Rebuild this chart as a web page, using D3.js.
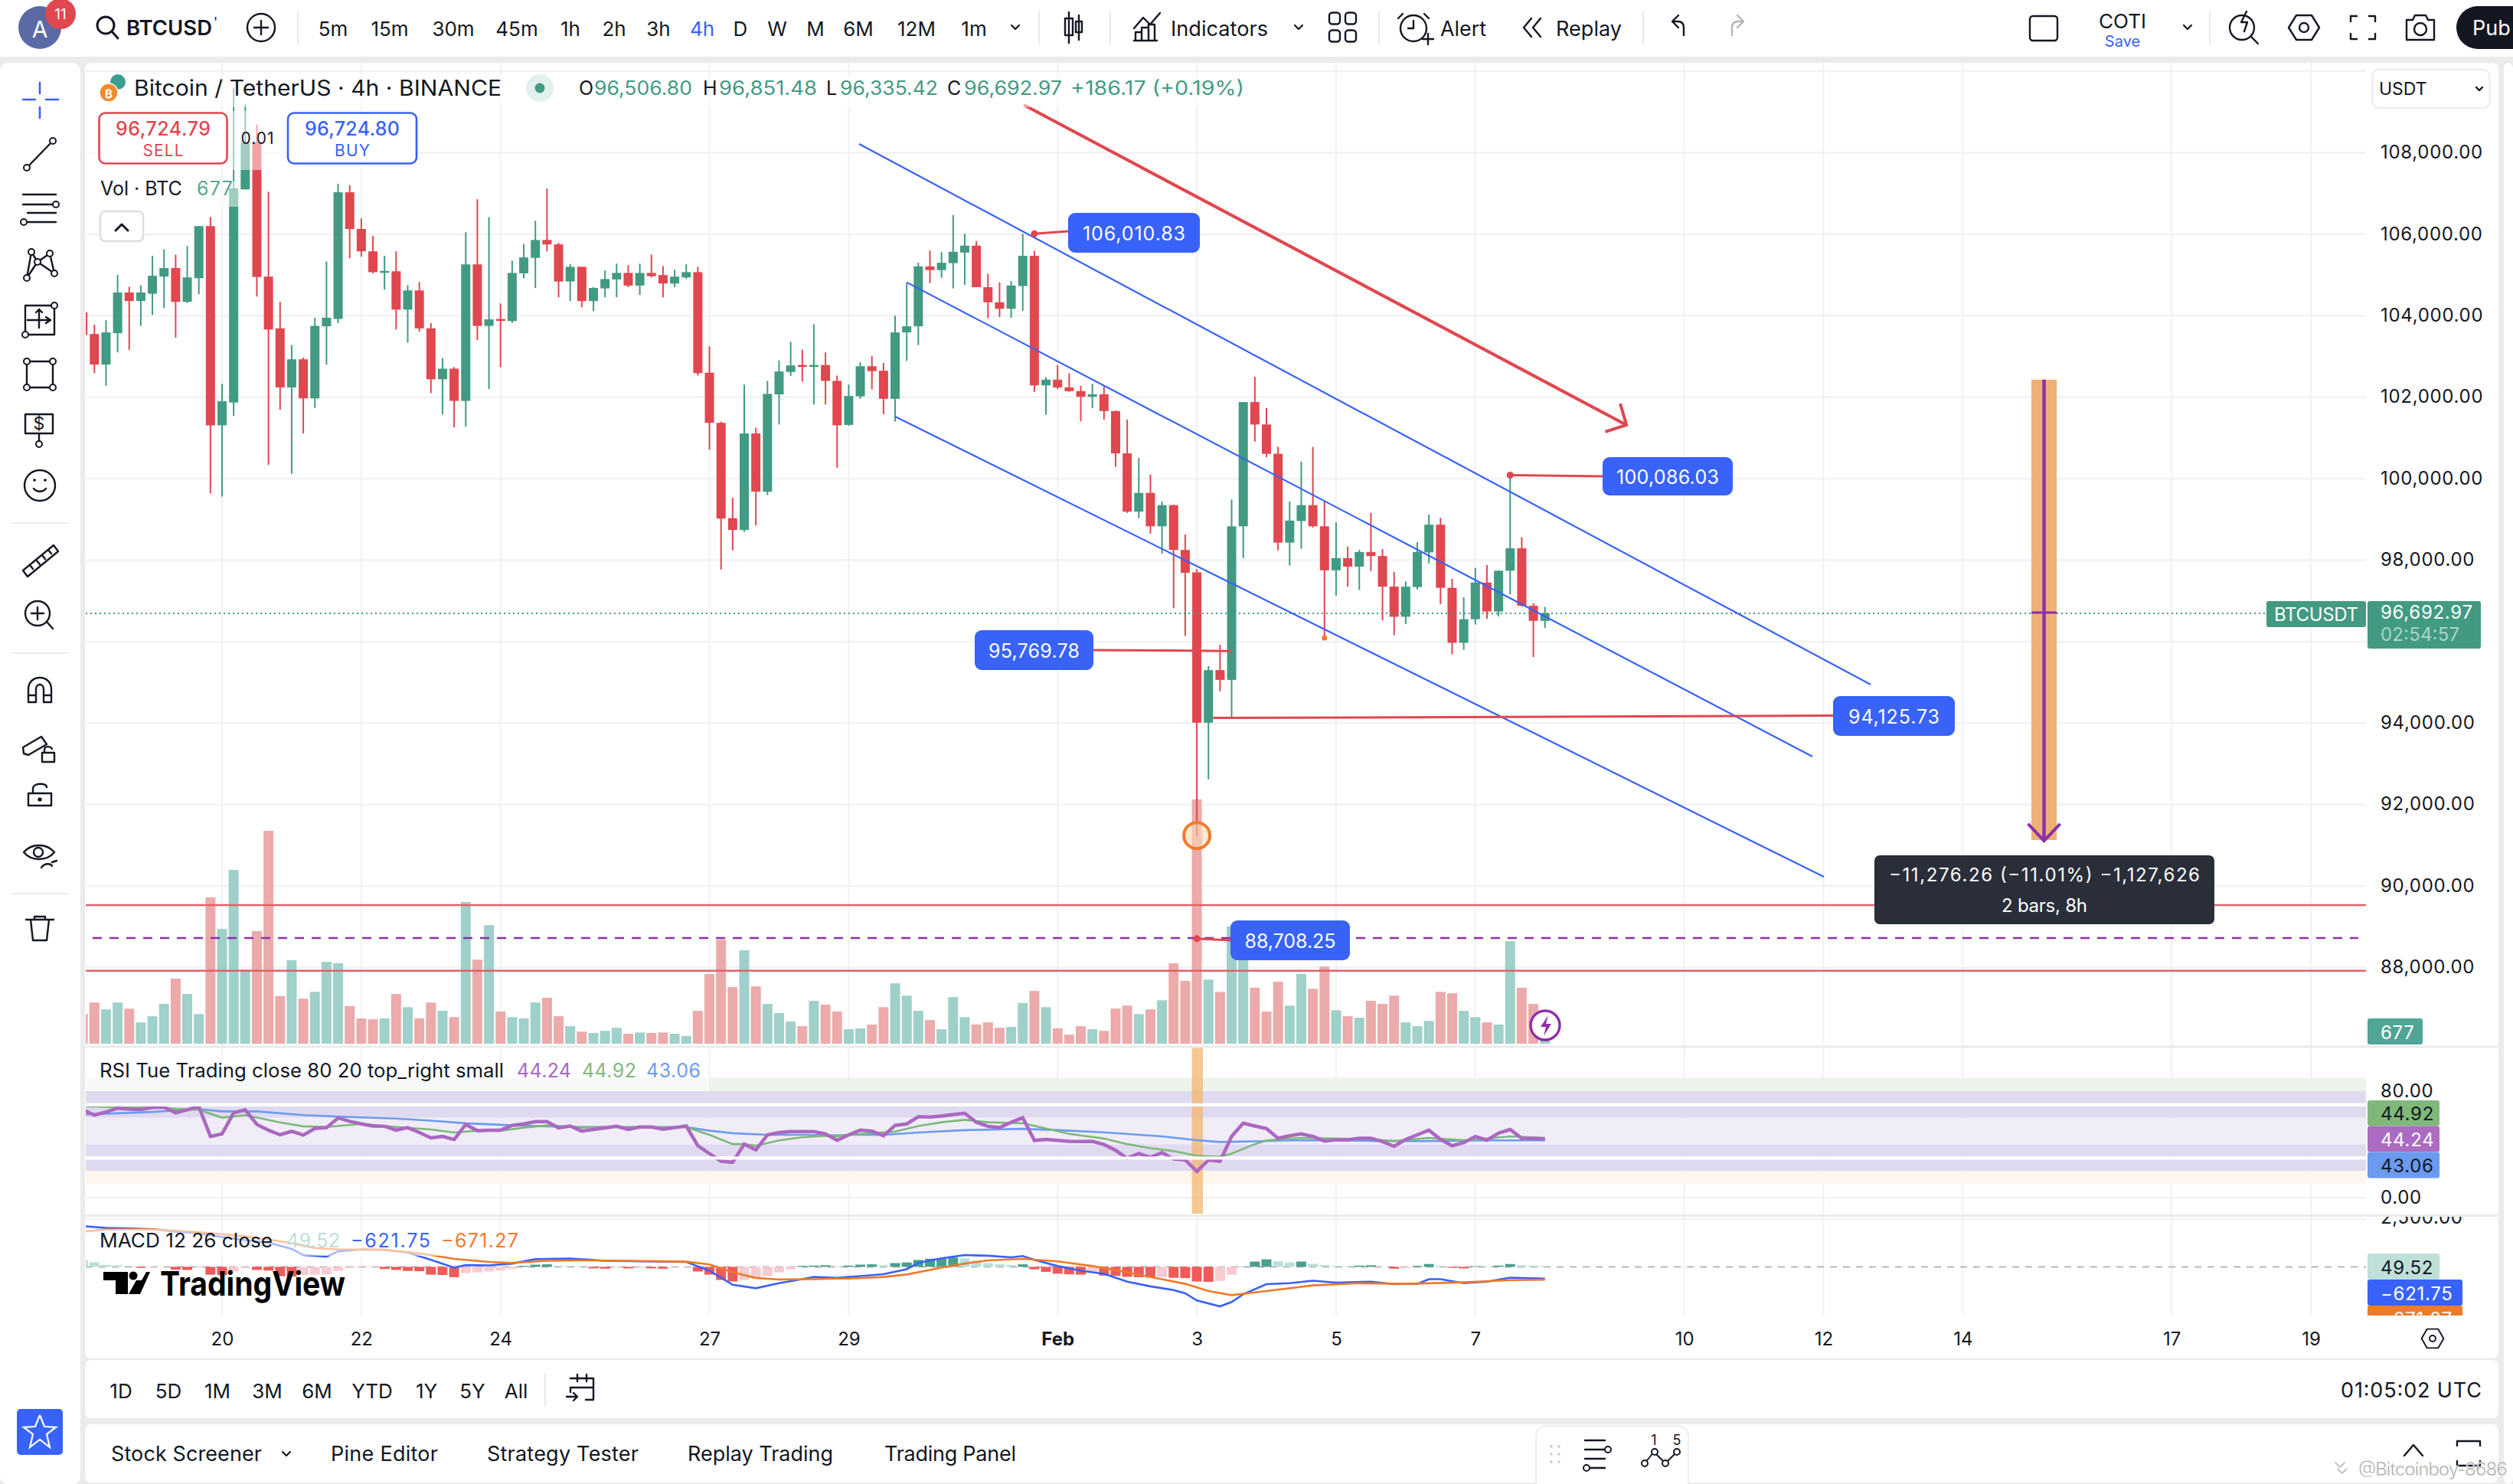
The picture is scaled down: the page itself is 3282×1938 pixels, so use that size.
<!DOCTYPE html>
<html><head><meta charset="utf-8"><title>BTCUSDT chart</title>
<script src="https://cdn.jsdelivr.net/npm/d3@7"></script>
<style>html,body{margin:0;padding:0;background:#ebebeb;overflow:hidden}svg{display:block}text{font-family:Inter,"Noto Sans",sans-serif}</style>
</head><body><svg id="c" width="3282" height="1938" viewBox="0 0 3282 1938"></svg>
<script>
// ---------- DATA (bar 0 = 20 Jan 00:00, 4h bars, first bar is -12) ----------
const firstBar = -12;
const opens = [
104080,103550,102800,103570,104570,104360,104540,104960,105170,104340,
104920,106200,101310,101870,107100,108250,104960,103690,102240,102930,
101970,103740,103920,107030,106130,105580,105070,105090,104150,104620,
103690,102440,102700,101910,105260,103750,103920,103870,105040,105420,
105860,105750,104840,105200,104360,104670,104890,105050,104740,105050,
105000,104790,104940,105070,102600,101370,99030,98740,101110,99680,
102070,102620,102790,102770,102790,102400,101320,102020,102760,102650,
101960,103590,103740,105210,105120,105290,105550,105720,104700,104330,
104170,104730,105470,102290,102430,102240,102150,102010,102070,101660,
100620,99190,99650,98830,99350,98250,97700,94010,95300,95060,
98830,101880,101330,100610,98430,98960,99350,98830,97750,98050,
97840,98200,98100,97350,96610,97340,98190,98870,97320,95970,
96550,97450,96740,97740,98290,96880,96506.8];
const closes = [
103530,102800,103590,104570,104360,104570,104980,105170,104340,104940,
106200,101310,101900,107130,108250,104950,103660,102240,102930,101970,
103750,103950,107030,106130,105580,105070,105100,104150,104620,103690,
102440,102700,101910,105260,103750,103910,103890,105050,105430,105860,
105750,104840,105200,104360,104680,104900,105050,104740,105050,104970,
104790,104960,105070,102590,101370,99020,98740,101110,99680,102080,
102630,102780,102770,102790,102400,101310,102030,102760,102640,101960,
103590,103740,105210,105120,105300,105570,105720,104700,104330,104170,
104740,105470,102290,102430,102240,102150,102010,102070,101660,100620,
99190,99650,98830,99350,98250,97690,94010,95300,95060,98830,
101880,101330,100610,98430,98970,99350,98830,97750,98050,97840,
98200,98100,97350,96610,97350,98200,98870,97320,95970,96550,
97450,96740,97740,98290,96880,96510,96692.97];
const highs = [
104080,103780,103890,105000,104710,104750,105470,105630,105500,105710,
106200,106420,102330,109590,109190,108690,107040,104340,103280,102970,
103950,105330,107240,107200,106390,105960,105470,105580,104750,104830,
103820,102960,102740,106050,106860,106420,104300,105350,105760,106330,
107120,105790,105270,105200,104700,105110,105280,105240,105280,105500,
105220,105130,105260,105200,103250,101400,99530,102310,101250,102400,
102900,103360,103170,103790,103100,102530,102310,102860,103010,102840,
104000,104800,105300,105600,105560,106470,106010,105830,105030,104820,
104850,106010,105590,102490,102790,102590,102280,102330,102290,101670,
101450,100510,100100,99440,99360,98630,97780,95400,95920,99490,
101880,102500,101730,100780,99440,100420,100780,99460,98930,98330,
98250,99160,98270,97710,97480,98440,99120,99040,97540,97090,
97810,97880,97750,100090,98560,96940,96851.48];
const lows = [
103530,102590,102280,103100,103160,103750,104020,104190,103460,104310,
104530,99640,99560,101540,107100,104470,100340,101690,100120,101110,
101740,102800,103820,105410,105450,105040,104640,103660,103340,103610,
102100,101580,101260,101280,103400,102200,102740,103820,104920,104680,
105580,104450,104360,104210,104110,104450,104450,104700,104510,104940,
104450,104700,104900,102530,100710,97770,98240,98690,98850,99600,
101330,102520,102380,101820,101820,100270,101300,101960,102190,101580,
101400,102890,103280,104800,104930,104670,104760,104700,103940,103970,
103950,104120,102130,101570,102200,102130,101410,101730,101450,100290,
99160,99030,98650,98160,96820,96140,91210,92620,94780,94100,
98050,100910,100530,98240,97870,98280,98800,96090,97130,97350,
97270,97730,96520,96160,96430,97280,97920,96920,95690,95800,
96420,96560,96620,97160,96860,95620,96335.42];
const volumes = [
1640,2280,1900,2280,1940,1180,1520,2200,3600,2750,
1640,8100,6350,9620,4100,6230,11780,2630,4620,2490,
2870,4530,4450,2080,1400,1350,1400,2750,2020,1400,
2280,1820,1470,7840,4650,6560,1780,1470,1400,2280,
2540,1520,970,670,590,710,880,550,620,590,
620,550,420,1820,3860,5760,3130,5170,3170,2200,
1700,1230,970,2370,2160,1780,800,850,1060,2020,
3340,2660,1820,1310,800,2580,1470,1060,1180,880,
930,2250,2920,2020,850,500,970,800,710,1940,
2110,1640,1900,2400,4450,3480,13520,3550,2870,6490,
4790,3100,1780,3430,2110,3860,3040,4270,1850,1520,
1440,2370,2200,2660,1180,970,1260,2870,2790,1820,
1470,1180,1060,5670,3100,2200,677];
const rsiValues = [
66.0,62.0,64.4,67.2,66.5,66.2,67.7,68.1,63.7,66.0,
68.4,46.0,47.9,63.7,66.0,55.0,50.7,47.2,49.8,47.0,
51.9,52.6,59.9,57.3,55.4,53.8,53.6,50.7,52.6,48.9,
44.9,46.0,43.7,55.0,50.3,50.7,50.7,54.3,55.4,57.1,
57.1,52.4,53.8,50.0,51.2,52.4,53.6,51.2,53.1,53.1,
51.4,52.6,53.8,39.0,33.1,27.3,26.6,40.2,35.9,47.2,
48.9,49.6,49.6,49.6,47.9,43.0,47.2,50.7,50.0,46.5,
54.3,55.4,60.8,60.6,61.3,62.5,63.4,56.6,53.6,52.6,
56.6,60.1,43.0,43.7,43.0,42.3,42.1,42.3,39.9,35.5,
29.6,33.1,30.3,33.8,29.1,28.4,19.7,28.2,27.3,46.0,
55.9,53.8,51.9,44.6,46.5,47.9,46.0,42.5,43.5,43.5,
44.6,44.6,42.1,38.5,43.7,47.2,50.7,43.7,39.0,41.3,
46.0,43.2,48.4,51.2,44.6,44.4,44.24];
const rsiMaBars = [-12,-9,-6,-4,-2,0,2,5,7,9,12,15,18,20,22,24,26,28,31,34,37,40,42,44,45,46,48,50,52,53,54,56,58,60,62,64,66,69,71,73,76,78,80,82,84,86,87,89,90,93,96,99,101,104,107,109,111,114];
const rsiMaValues = [68.8,67.9,67.9,66.7,66.0,60.1,62.0,56.6,53.6,53.1,55.4,53.1,51.2,48.9,50.3,50.3,52.6,54.3,52.6,53.1,52.6,53.1,47.2,40.2,40.2,39.0,43.0,45.3,46.5,46.0,47.2,48.4,49.6,53.8,56.6,58.5,56.6,55.9,51.9,47.9,44.4,40.2,37.1,35.0,31.5,30.8,33.1,40.2,43.0,44.9,44.4,43.7,42.5,44.9,43.2,44.4,46.0,44.92];
const rsiSlowBars = [-12,-9,-6,-3,-2,0,3,7,11,15,18,21,25,28,31,34,37,40,42,44,47,50,53,54,57,60,64,69,72,76,81,84,86,89,92,96,100,104,109,114];
const rsiSlowValues = [62.5,63.4,64.4,66.0,66.5,64.8,64.8,62.0,60.6,59.4,57.8,55.9,54.3,53.6,53.1,53.1,53.1,53.1,50.3,48.4,47.2,47.2,46.8,47.2,47.2,48.9,50.7,51.7,50.7,49.1,46.0,43.2,41.8,42.3,43.0,43.0,42.5,42.5,43.0,43.06];
const macdBars = [-12,-10,-8,-6,-4,-2,0,2,4,6,7,9,10,12,14,16,18,20,21,23,25,27,30,33,36,40,42,44,46,48,50,51,53,54,55,57,59,60,62,64,66,68,69,70,72,74,76,78,80,82,83,84,86,87,88,90,92,94,96,99,101,103,104,105,107,109,111,114];
const macdValues = [2134,2036,2003,1970,1840,1758,1562,1398,1268,941,614,532,810,908,892,745,369,-40,91,74,172,401,434,319,287,254,-204,-940,-1120,-858,-645,-531,-580,-531,-482,-384,-122,205,450,614,581,499,565,369,41,-204,-368,-776,-1021,-1217,-1381,-1757,-2068,-1839,-1431,-907,-858,-727,-825,-776,-907,-890,-645,-645,-858,-776,-564,-621.75];
const signalBars = [-12,-10,-6,-4,-2,0,2,4,6,8,10,12,14,16,18,20,23,25,28,31,35,40,42,44,46,48,51,53,54,57,59,62,64,66,69,72,75,78,80,83,85,87,90,94,98,102,107,111,114];
const signalValues = [1840,1955,1970,1889,1807,1709,1595,1431,1235,990,908,908,892,777,614,418,254,205,319,336,319,270,123,-286,-580,-662,-645,-613,-613,-531,-400,-41,172,336,418,287,41,-286,-531,-890,-1267,-1480,-1267,-972,-858,-890,-809,-694,-671.27];
const macdHist = [
360,245,98,82,49,-49,-33,-16,-147,-164,
-49,-409,-425,-245,-49,-164,-196,-491,-507,-425,
-409,-392,-213,-65,-49,-33,-114,-164,-213,-229,
-409,-425,-540,-327,-294,-245,-196,-98,49,114,
131,49,49,33,-82,-98,-49,-82,-49,-82,
-98,-33,-16,-245,-409,-687,-768,-687,-621,-491,
-294,-131,49,65,82,33,65,114,131,82,
196,229,360,425,441,491,441,327,196,131,
98,131,-131,-262,-360,-392,-409,-262,-458,-474,
-523,-540,-556,-540,-572,-589,-768,-785,-736,-409,
16,278,392,294,229,278,164,98,49,33,
65,82,5,-98,-65,49,147,49,-49,-82,
33,16,65,147,82,65,49.52];
const priceTicks = [108000,106000,104000,102000,100000,98000,94000,92000,90000,88000];
const gridPrices = [110000,108000,106000,104000,102000,100000,98000,96000,94000,92000,90000,88000];
const timeTickBars = [0,12,24,42,54,72,84,96,108,126,138,150,168,180];
const timeTickLabels = ["20","22","24","27","29","Feb","3","5","7","10","12","14","17","19"];
const rsiTicks = [80,0];
const rsiBandBreaks = [90,80,71,69,60,40,31,29,20,10];
const macdTicks = [2500];
const channelStart = [[54.9,108216],[58.99,104821],[58,101524]];
const channelEnd = [[142.07,94945],[137.05,93179],[138.03,90228]];
const trendStart = [69.09,109175], trendEnd = [121.02,101318];
const levelRed = [89532,87920], levelDash = 88724;
const measure = {barA:155.92,barB:158.1,top:102430,bottom:91130};
const calloutBars = [70,111,87,85.4,84];
const calloutPrices = [106010.83,100086.03,95769.78,94125.73,88708.25];
const lastClose = 96692.97;

// ---------- SCALES ----------
const svg = d3.select("#c");
const paneL = 112, paneR = 3090;
const x = d3.scaleLinear().domain([0,180]).range([290,3018]);
const y = d3.scaleLinear().domain([108000,88000]).range([199.5,1263.5]);
const yVol = d3.scaleLinear().domain([0,14000]).range([1363,1363-330.4]);
const yRsi = d3.scaleLinear().domain([0,80]).range([1564,1425]);
const yMacd = d3.scaleLinear().domain([0,2500]).range([1654.4,1592]);
const GREEN="#429a82", RED="#e0474f", BLUE="#3862f8", PURPLE="#8e2fa8", ORANGE="#ef7a2a", INK="#131722";
const bars = opens.map((o,k)=>({i:firstBar+k,o,c:closes[k],h:highs[k],l:lows[k],v:volumes[k],m:macdHist[k],rsi:rsiValues[k],up:closes[k]>=o}));
const fmt2 = d3.format(",.2f");

// ---------- HELPERS ----------
function rect(g,x0,y0,w,h,fill,rx,extra){const r=g.append("rect").attr("x",x0).attr("y",y0).attr("width",w).attr("height",h).attr("fill",fill);if(rx)r.attr("rx",rx);if(extra)Object.entries(extra).forEach(([k,v])=>r.attr(k,v));return r;}
function txt(g,x0,y0,s,size,fill,opt={}){const t=g.append("text").attr("x",x0).attr("y",y0).attr("font-size",size).attr("fill",fill||INK).attr("dominant-baseline","central").attr("text-anchor",opt.a||"start").text(s);if(opt.w)t.attr("font-weight",opt.w);if(opt.len)t.attr("textLength",opt.len).attr("lengthAdjust",opt.adj||"spacingAndGlyphs");if(opt.ls)t.attr("letter-spacing",opt.ls);return t;}
function p(g,d,stroke,w,fill){return g.append("path").attr("d",d).attr("fill",fill||"none").attr("stroke",stroke||INK).attr("stroke-width",w||2.4).attr("stroke-linecap","round").attr("stroke-linejoin","round");}
function circ(g,cx,cy,r,stroke,w,fill){return g.append("circle").attr("cx",cx).attr("cy",cy).attr("r",r).attr("fill",fill||"#fff").attr("stroke",stroke||INK).attr("stroke-width",w||2.2);}

// ---------- FRAME ----------
rect(svg,0,0,3282,1938,"#ebebeb");
rect(svg,0,0,3282,74,"#fff");
rect(svg,0,82,105,1856,"#fff",10);
rect(svg,111,82,3152,1692,"#fff",8);
rect(svg,111,1776,3152,76,"#fff",8);
rect(svg,111,1860,3152,76,"#fff",8);
rect(svg,3270,82,12,1856,"#fff",8);

const defs = svg.append("defs");
defs.append("clipPath").attr("id","mainClip").append("rect").attr("x",paneL).attr("y",82).attr("width",paneR-paneL).attr("height",1282);
defs.append("clipPath").attr("id","rsiClip").append("rect").attr("x",paneL).attr("y",1367).attr("width",paneR-paneL).attr("height",218);
defs.append("clipPath").attr("id","macdClip").append("rect").attr("x",paneL).attr("y",1588).attr("width",paneR-paneL).attr("height",130);
defs.append("clipPath").attr("id","axisClip").append("rect").attr("x",3090).attr("y",1588).attr("width",170).attr("height",130);

// ---------- GRID ----------
const grid = svg.append("g");
grid.selectAll(".vg").data(timeTickBars).join("line").attr("x1",d=>x(d)).attr("x2",d=>x(d)).attr("y1",82).attr("y2",1718).attr("stroke","#f0f1f2").attr("stroke-width",2);
grid.selectAll(".hg").data(gridPrices).join("line").attr("x1",paneL).attr("x2",paneR).attr("y1",d=>y(d)).attr("y2",d=>y(d)).attr("stroke","#f1f2f3").attr("stroke-width",2.5);
grid.selectAll(".hr").data(rsiTicks).join("line").attr("x1",paneL).attr("x2",paneR).attr("y1",d=>yRsi(d)).attr("y2",d=>yRsi(d)).attr("stroke","#eff0f1").attr("stroke-width",2);
grid.selectAll(".hm").data(macdTicks).join("line").attr("x1",paneL).attr("x2",paneR).attr("y1",d=>yMacd(d)).attr("y2",d=>yMacd(d)).attr("stroke","#eff0f1").attr("stroke-width",2);

// ---------- MAIN PANE ----------
const main = svg.append("g").attr("clip-path","url(#mainClip)");
main.selectAll(".vol").data(bars).join("rect").attr("x",d=>x(d.i)-6.5).attr("width",13).attr("y",d=>yVol(d.v)).attr("height",d=>yVol(0)-yVol(d.v)).attr("fill",d=>d.up?"#9fd0c9":"#ecaaaa");
main.selectAll(".wick").data(bars).join("line").attr("x1",d=>x(d.i)).attr("x2",d=>x(d.i)).attr("y1",d=>y(d.h)).attr("y2",d=>y(d.l)).attr("stroke",d=>d.up?GREEN:RED).attr("stroke-width",2);
main.selectAll(".body").data(bars).join("rect").attr("x",d=>x(d.i)-6).attr("width",12).attr("y",d=>y(Math.max(d.o,d.c))).attr("height",d=>Math.max(2.5,Math.abs(y(d.o)-y(d.c)))).attr("fill",d=>d.up?GREEN:RED);

// last price line
main.append("line").attr("x1",paneL).attr("x2",2960).attr("y1",y(lastClose)).attr("y2",y(lastClose)).attr("stroke",GREEN).attr("stroke-width",2).attr("stroke-dasharray","2 4");

// level lines
main.selectAll(".lvl").data(levelRed).join("line").attr("x1",paneL).attr("x2",paneR).attr("y1",d=>y(d)).attr("y2",d=>y(d)).attr("stroke","#e2606a").attr("stroke-width",2.4);
main.append("line").attr("x1",121).attr("x2",3080).attr("y1",y(levelDash)).attr("y2",y(levelDash)).attr("stroke",PURPLE).attr("stroke-width",2.4).attr("stroke-dasharray","12 10");

// channels & trend arrow
main.selectAll(".chan").data(channelStart).join("line").attr("x1",d=>x(d[0])).attr("y1",d=>y(d[1])).attr("x2",(d,k)=>x(channelEnd[k][0])).attr("y2",(d,k)=>y(channelEnd[k][1])).attr("stroke",BLUE).attr("stroke-width",2.2);
const tx0=x(trendStart[0]),ty0=y(trendStart[1]),tx1=x(trendEnd[0]),ty1=y(trendEnd[1]);
const ang=Math.atan2(ty1-ty0,tx1-tx0);
const wing=(a)=>[tx1-29*Math.cos(ang+a),ty1-29*Math.sin(ang+a)];
main.append("line").attr("x1",tx0).attr("y1",ty0).attr("x2",tx1).attr("y2",ty1).attr("stroke",RED).attr("stroke-width",4.2);
main.append("path").attr("d",d3.line()([wing(0.8),[tx1,ty1],wing(-0.8)])).attr("fill","none").attr("stroke",RED).attr("stroke-width",4);

// measure tool
const mxA=x(measure.barA),mxB=x(measure.barB),myT=y(measure.top),myB=y(measure.bottom),mxC=(mxA+mxB)/2;
main.append("rect").attr("x",mxA).attr("y",myT).attr("width",mxB-mxA).attr("height",myB-myT).attr("fill","#eeb175");
main.append("line").attr("x1",mxC).attr("x2",mxC).attr("y1",myT).attr("y2",myB).attr("stroke",PURPLE).attr("stroke-width",4.5);
main.append("line").attr("x1",mxA).attr("x2",mxB).attr("y1",y(lastClose)-1).attr("y2",y(lastClose)-1).attr("stroke",PURPLE).attr("stroke-width",3);
main.append("path").attr("d",`M${mxC-21} ${myB-21}L${mxC} ${myB+1}L${mxC+21} ${myB-21}`).attr("fill","none").attr("stroke",PURPLE).attr("stroke-width",4);

// orange circle on bar 84
main.append("circle").attr("cx",x(84)).attr("cy",y(91240)).attr("r",17).attr("fill","#fbd9b4").attr("fill-opacity",.6).attr("stroke",ORANGE).attr("stroke-width",4);

// callouts: box geometry per label
const calloutBox=[[1395,278,172,52],[2093,597,170,50],[1273,823,155,52],[2394,909,159,52],[1607,1202,156,52]];
calloutPrices.forEach((pv,k)=>{
  const b=calloutBox[k],cx=x(calloutBars[k]),cy=y(pv);
  const ex=b[0]>cx?b[0]:b[0]+b[2];
  const ey=(k==3)?cy-3:(k==2?b[1]+26:b[1]+b[3]/2-(k==0?2:0));
  main.append("line").attr("x1",cx).attr("y1",cy).attr("x2",ex).attr("y2",ey).attr("stroke",RED).attr("stroke-width",3);
  if(k!=2&&k!=3) main.append("circle").attr("cx",cx).attr("cy",cy).attr("r",4.5).attr("fill",RED);
  rect(main,b[0],b[1],b[2],b[3],BLUE,9);
  txt(main,b[0]+b[2]/2,b[1]+b[3]/2+1,fmt2(pv),25,"#fff",{a:"middle",len:fmt2(pv).length>9?134:119,adj:"spacing"});
});
// orange dot at low of bar 95
main.append("circle").attr("cx",x(95)).attr("cy",y(96090)).attr("r",3.5).attr("fill",ORANGE);

// tooltip
const tip=svg.append("g");
rect(tip,2448,1117,444,90,"#2a2e39",7);
txt(tip,2670,1142,"\u221211,276.26 (\u221211.01%) \u22121,127,626",24,"#fff",{a:"middle",len:406,adj:"spacing"});
txt(tip,2670,1182,"2 bars, 8h",24,"#fff",{a:"middle",len:112,adj:"spacing"});

// lightning icon
const bolt=svg.append("g");
circ(bolt,2018,1339,19,PURPLE,3.4,"#fff");
bolt.append("path").attr("d","M2022 1326l-10 15h7l-3 12 10-16h-7z").attr("fill",PURPLE);

// ---------- RSI PANE ----------
const rsiG=svg.append("g").attr("clip-path","url(#rsiClip)");
const bandFills=["#ecf3ea","#e0daf0",null,"#e0daf0","#f0edf8","#e0daf0",null,"#e0daf0","#fdf6ee"];
rsiBandBreaks.slice(0,-1).forEach((v,k)=>{ if(bandFills[k]) rect(rsiG,paneL,yRsi(v),paneR-paneL,yRsi(rsiBandBreaks[k+1])-yRsi(v),bandFills[k]); });
rect(rsiG,x(84)-6.5,1367,14.5,218,"#f2b36a",0,{opacity:.72});
const lineRsi=d3.line().x(d=>x(d.i)).y(d=>yRsi(d.rsi));
const pairLine=(bs,vs,sc)=>d3.line()(bs.map((b,k)=>[x(b),sc(vs[k])]));
rsiG.append("path").attr("d",pairLine(rsiSlowBars,rsiSlowValues,yRsi)).attr("fill","none").attr("stroke","#6c9cf0").attr("stroke-width",2.6);
rsiG.append("path").attr("d",pairLine(rsiMaBars,rsiMaValues,yRsi)).attr("fill","none").attr("stroke","#7fb87a").attr("stroke-width",2.6);
rsiG.append("path").datum(bars).attr("d",lineRsi).attr("fill","none").attr("stroke","#ab68c0").attr("stroke-width",4.5);
rect(rsiG,paneL,yRsi(70)-1.5,paneR-paneL,4,"#fff");
rect(rsiG,paneL,yRsi(30)-1.5,paneR-paneL,4,"#fff");

// ---------- MACD PANE ----------
const macdG=svg.append("g").attr("clip-path","url(#macdClip)");
macdG.append("line").attr("x1",paneL).attr("x2",paneR).attr("y1",yMacd(0)).attr("y2",yMacd(0)).attr("stroke","#b8b8b8").attr("stroke-width",2).attr("stroke-dasharray","9 8");
macdG.selectAll(".hist").data(bars).join("rect").attr("x",d=>x(d.i)-6.5).attr("width",13)
  .attr("y",d=>Math.min(yMacd(0),yMacd(d.m))).attr("height",d=>Math.abs(yMacd(d.m)-yMacd(0)))
  .attr("fill",(d,k)=>{const prev=k?bars[k-1].m:d.m;return d.m>=0?(d.m>prev?"#4a9e8c":"#bcdfd9"):(d.m<prev?"#ef5a5a":"#f8cbd0");});
macdG.append("path").attr("d",pairLine(macdBars,macdValues,yMacd)).attr("fill","none").attr("stroke",BLUE).attr("stroke-width",2.6);
macdG.append("path").attr("d",pairLine(signalBars,signalValues,yMacd)).attr("fill","none").attr("stroke",ORANGE).attr("stroke-width",2.6);

// ---------- LEGENDS ----------
const leg=svg.append("g");
rect(leg,paneL,98,1520,42,"#fff",0,{opacity:.5});
rect(leg,paneL,145,433,77,"#fff",0,{opacity:.5});
rect(leg,paneL,237,200,33,"#fff",0,{opacity:.5});
rect(leg,paneL,1385,814,40,"#fff",0,{opacity:.5});
rect(leg,paneL,1605,565,35,"#fff",0,{opacity:.55});
leg.append("circle").attr("cx",154).attr("cy",107).attr("r",10).attr("fill","#3a9f8e");
leg.append("circle").attr("cx",142).attr("cy",121).attr("r",12).attr("fill","#f08a2c").attr("stroke","#fff").attr("stroke-width",1.5);
txt(leg,142,122,"\u20bf",15,"#fff",{a:"middle",w:700});
txt(leg,175,115,"Bitcoin / TetherUS \u00b7 4h \u00b7 BINANCE",28,INK,{len:480});
leg.append("circle").attr("cx",705).attr("cy",115).attr("r",18).attr("fill","#e3f1ee");
leg.append("circle").attr("cx",705).attr("cy",115).attr("r",6.5).attr("fill",GREEN);
const ohlc=[["O",756,opens[opens.length-1],776],["H",918,highs[highs.length-1],939],["L",1079,lows[lows.length-1],1097],["C",1237,closes[closes.length-1],1259]];
ohlc.forEach(r=>{txt(leg,r[1],115,r[0],25,INK);txt(leg,r[3],115,fmt2(r[2]),25,GREEN,{len:128});});
txt(leg,1398,115,"+186.17 (+0.19%)",25,GREEN,{len:227});
rect(leg,129.5,147.5,167,66,"#fff",8,{stroke:RED,"stroke-width":2.6});
txt(leg,213,168,"96,724.79",25,RED,{a:"middle",w:500,len:124,adj:"spacing"});
txt(leg,213,196,"SELL",21,RED,{a:"middle",len:53,adj:"spacing"});
rect(leg,376,147.5,168,66,"#fff",8,{stroke:BLUE,"stroke-width":2.6});
txt(leg,460,168,"96,724.80",25,BLUE,{a:"middle",w:500,len:124,adj:"spacing"});
txt(leg,460,196,"BUY",21,BLUE,{a:"middle",len:46,adj:"spacing"});
txt(leg,336,180,"0.01",21,INK,{a:"middle",len:43,adj:"spacing"});
txt(leg,131,246,"Vol \u00b7 BTC",25,INK);
txt(leg,257,246,"677",25,"#5aa596",{len:47,adj:"spacing"});
rect(leg,131,276,56,39,"#fff",6,{stroke:"#dedede","stroke-width":2.5});
p(leg,"M151 301l8-8 8 8",INK,3);
txt(leg,130,1398,"RSI Tue Trading close 80 20 top_right small",25,INK,{len:528});
txt(leg,675,1398,"44.24",25,"#ab68c0",{len:71,adj:"spacing"});
txt(leg,760,1398,"44.92",25,"#7fb87a",{len:71,adj:"spacing"});
txt(leg,844,1398,"43.06",25,"#6c9cf0",{len:71,adj:"spacing"});
txt(leg,130,1620,"MACD 12 26 close",25,INK,{len:226});
txt(leg,374,1620,"49.52",25,"#bcdfd9",{len:70,adj:"spacing"});
txt(leg,458,1620,"\u2212621.75",25,BLUE,{len:104,adj:"spacing"});
txt(leg,576,1620,"\u2212671.27",25,ORANGE,{len:101,adj:"spacing"});
// TradingView mark
leg.append("path").attr("d","M135 1661h32v29h-16v-18h-16zM196 1661l-13 29h-15l10-18h7l6-11z").attr("fill","#000");
leg.append("circle").attr("cx",174).attr("cy",1666).attr("r",5.5).attr("fill","#000");
txt(leg,209,1676,"TradingView",44,"#000",{w:700,len:242});

// ---------- AXES ----------
const axisFont=24, axisX=3109, axisLS=0.7;
const yAxis=svg.append("g").attr("transform",`translate(${axisX},0)`).call(d3.axisRight(y).tickValues(priceTicks).tickSize(0).tickPadding(0).tickFormat(fmt2));
yAxis.select(".domain").remove();
yAxis.selectAll("text").attr("font-size",axisFont).attr("fill",INK).attr("dy","0.3em").attr("font-family","Inter").attr("letter-spacing",axisLS);
const rsiAxis=svg.append("g").attr("transform",`translate(${axisX},0)`).call(d3.axisRight(yRsi).tickValues(rsiTicks).tickSize(0).tickPadding(0).tickFormat(d3.format(".2f")));
rsiAxis.select(".domain").remove();
rsiAxis.selectAll("text").attr("font-size",axisFont).attr("fill",INK).attr("dy","0.3em").attr("font-family","Inter").attr("letter-spacing",axisLS);
const macdAxis=svg.append("g").attr("clip-path","url(#axisClip)").append("g").attr("transform",`translate(${axisX},0)`).call(d3.axisRight(yMacd).tickValues(macdTicks).tickSize(0).tickPadding(0).tickFormat(fmt2));
macdAxis.select(".domain").remove();
macdAxis.selectAll("text").attr("font-size",axisFont).attr("fill",INK).attr("dy","0.3em").attr("font-family","Inter").attr("letter-spacing",axisLS).attr("transform","translate(0,-2)");
const xAxis=svg.append("g").attr("transform","translate(0,1740)").call(d3.axisBottom(x).tickValues(timeTickBars).tickSize(0).tickPadding(0).tickFormat((d,k)=>timeTickLabels[k]));
xAxis.select(".domain").remove();
xAxis.selectAll("text").attr("font-size",axisFont).attr("fill",INK).attr("font-family","Inter").attr("font-weight",(d,k)=>timeTickLabels[k]==="Feb"?700:400);

// pane separators & scale borders
const sep=svg.append("g");
[[1365.5,1.6],[1586,1.6]].forEach(s=>rect(sep,111,s[0],3151,3,"#ebebeb"));
// price labels
const tag=(x0,y0,w,h,fill,s,col)=>{rect(svg,x0,y0,w,h,fill,3);txt(svg,axisX,y0+h/2+1,s,24,col,{ls:axisLS});};
rect(svg,2960,785,130,34,GREEN,3);txt(svg,3025,802.5,"BTCUSDT",24,"#fff",{a:"middle",len:110,adj:"spacing"});
rect(svg,3092,785,148,62,GREEN,3);txt(svg,axisX,799,fmt2(lastClose),24,"#fff",{ls:axisLS});txt(svg,axisX,828,"02:54:57",24,"#a9d4c9",{len:103,adj:"spacing"});
tag(3092,1330,72,34,"#50a596","677","#fff");
tag(3092,1437,94,33.5,"#7fb87a","44.92",INK);
tag(3092,1470.5,94,34,"#ab6bc1","44.24","#fff");
tag(3092,1504.5,94,34,"#6a9bef","43.06",INK);
tag(3092,1637,94,34,"#bfdfd9","49.52",INK);
tag(3092,1671,124,34,BLUE,"\u2212621.75","#fff");
const clipTag=svg.append("g").attr("clip-path","url(#axisClip)");
rect(clipTag,3092,1705,124,34,ORANGE,3);txt(clipTag,axisX,1722,"\u2212671.27",24,"#fff",{ls:axisLS});
rect(svg,3098.5,91,153,50,"#fff",8,{stroke:"#ededed","stroke-width":2.4});
txt(svg,3107,116,"USDT",23,INK);
p(svg,"M3234 114l4 4 4-4",INK,2.4);
// gear near time axis
const gearIcon=(cx,cy,s=1)=>{const g=svg.append("g").attr("transform",`translate(${cx},${cy}) scale(${s})`);p(g,"M-9-15.5H9L18 0 9 15.5H-9L-18 0z",INK,2.4);circ(g,0,0,5,INK,2.4,"none");};
gearIcon(3177,1748,.8);

// ---------- TOP TOOLBAR ----------
const topBar=svg.append("g");
topBar.append("circle").attr("cx",52).attr("cy",36).attr("r",28).attr("fill","#5b6aa5");
txt(topBar,52,38,"A",30,"#fff",{a:"middle"});
topBar.append("circle").attr("cx",79).attr("cy",18).attr("r",20).attr("fill",RED);
txt(topBar,79,18,"11",19,"#fff",{a:"middle"});
circ(topBar,138,33,11,INK,3,"none");p(topBar,"M146 41l8 9",INK,3);
txt(topBar,165,36,"BTCUSD",27,INK,{w:600,len:112});
txt(topBar,279,29,"'",17,INK);
circ(topBar,341,36,18,INK,2.4,"none");p(topBar,"M341 27v18M332 36h18",INK,2.4);
const vsep=(g,xv,y1=14,y2=58)=>g.append("line").attr("x1",xv).attr("x2",xv).attr("y1",y1).attr("y2",y2).attr("stroke","#e9e9e9").attr("stroke-width",2);
vsep(topBar,389);
const intervals=["5m","15m","30m","45m","1h","2h","3h","4h","D","W","M","6M","12M","1m"];
const intervalX=[435,509,592,675,745,802,860,917,967,1015,1065,1121,1197,1272];
intervals.forEach((s,k)=>txt(topBar,intervalX[k],37,s,26,s==="4h"?BLUE:INK,{a:"middle"}));
p(topBar,"M1321 33l5 5 5-5",INK,2.2);
vsep(topBar,1357);
p(topBar,"M1396 16v40M1391 24h10v22h-10zM1409 20v32M1405 28h8v14h-8z",INK,2.4);
vsep(topBar,1450);
p(topBar,"M1481 37l12-14 9 9 13-15M1483 52V42h8v10M1491 52V36h9v16M1500 52V32h8v20M1481 53h30",INK,2.4);
txt(topBar,1529,37,"Indicators",27,INK,{len:127});
p(topBar,"M1691 33l5 5 5-5",INK,2.2);
[[1743,24],[1764,24],[1743,47],[1764,47]].forEach(c=>rect(topBar,c[0]-7,c[1]-7.5,14,15,"none",4,{stroke:INK,"stroke-width":2.4}));
vsep(topBar,1801);
circ(topBar,1846,37,17,INK,2.4,"none");p(topBar,"M1846 27v10h-7M1832 18l-6 6M1860 18l6 6M1858 51h14M1865 44v14",INK,2.4);
txt(topBar,1881,37,"Alert",27,INK,{len:60});
p(topBar,"M2000 24l-10 12 10 12M2012 24l-10 12 10 12",INK,2.4);
txt(topBar,2032,37,"Replay",27,INK,{len:86});
vsep(topBar,2146);
p(topBar,"M2199 46V36c0-5-3-8-8-8h-7M2192 20l-8 8 8 8",INK,2.4);
p(topBar,"M2262 46V36c0-5 3-8 8-8h7M2269 20l8 8-8 8","#b5b5b5",2.4);
rect(topBar,2651,21,36,32,"none",4,{stroke:INK,"stroke-width":2.4});
txt(topBar,2772,27,"COTI",26,INK,{a:"middle"});
txt(topBar,2772,54,"Save",20,BLUE,{a:"middle"});
p(topBar,"M2852 33l5 5 5-5",INK,2.2);
vsep(topBar,2886);
circ(topBar,2928,36,16,INK,2.4,"none");p(topBar,"M2940 48l9 9M2934 15l-7 14h8l-4 12",INK,2.4);
p(topBar,"M2999 20h20l10 16-10 16h-20l-10-16z",INK,2.4);circ(topBar,3009,36,6,INK,2.4,"none");
p(topBar,"M3070 28v-7h8M3094 21h8v7M3102 44v7h-8M3078 51h-8v-7",INK,2.4);
p(topBar,"M3143 26h8l3-6h14l3 6h8v26h-36z",INK,2.4);circ(topBar,3161,38,8,INK,2.4,"none");
rect(topBar,3208,8,100,56,"#131722",28);
txt(topBar,3229,36,"Pub",27,"#fff");

// ---------- LEFT TOOLBAR ----------
const ltb=svg.append("g");
p(ltb,"M30 130h16M60 130h16M52 108v14M52 140v14",BLUE,2.6);
const L=(d)=>p(ltb,d,INK,2.4);
const node=(cx,cy)=>circ(ltb,cx,cy,4,INK,2,"#fff");
L("M35 219L69 184");node(35,219);node(69,184);
L("M30 254h43M30 267h38M36 278h37M36 290h37");node(73,267);node(31,290);
L("M41 329L35 363L49 342L71 357L65 331L49 342L41 329");[[41,329],[65,331],[49,342],[35,363],[71,357]].forEach(n=>node(...n));
L("M33 399h38v38H33zM36 418h30M60 414l6 4-6 4M51 428v-24M47 408l4-4 4 4");node(71,399);node(33,437);
L("M35 472h34v34H35z");[[35,472],[69,472],[35,506],[69,506]].forEach(n=>node(...n));
L("M33 541h36v25H33zM51 566v10");txt(ltb,51,553,"$",23,INK,{a:"middle"});node(51,580);
circ(ltb,52,634,20,INK,2.4,"none");L("M44 638c4 5 12 5 16 0");ltb.append("circle").attr("cx",45).attr("cy",627).attr("r",1.8);ltb.append("circle").attr("cx",59).attr("cy",627).attr("r",1.8);
[682,852,1166].forEach(v=>rect(ltb,16,v,72,2,"#ececec"));
L("M30 745L70 712 76 720 36 753zM39 738l4 5M47 731l5 6M55 725l4 5M63 718l4 5");
circ(ltb,49,801,16,INK,2.4,"none");L("M61 812l8 9M41 801h16M49 793v16");
L("M37 917v-17c0-20 30-20 30 0v17h-10v-17c0-8-10-8-10 0v17zM37 908h10M57 908h10");
L("M31 984l-1-8 24-14 7 10-24 14zM54 962l7 10");L("M55 983h16v12H55zM58 983v-4c0-5 8-5 10-1");
L("M37 1036h30v16H37zM43 1036v-6c0-8 18-8 18-2");ltb.append("circle").attr("cx",52).attr("cy",1044).attr("r",2.6);
L("M31 1113c10-12 30-12 40 0-10 12-30 12-40 0z");circ(ltb,50,1113,6,INK,2.4,"none");L("M54 1133c4-6 12-6 14-2M68 1126l6-2");
L("M34 1201h36M40 1201l3 27h18l3-27M45 1201v-4h14v4");
rect(ltb,22,1840,60,60,BLUE,5);
ltb.append("path").attr("d",d3.line()([[52,1848],[58,1863],[73,1864],[61,1873],[65,1890],[52,1880],[39,1890],[43,1873],[31,1864],[46,1863],[52,1848]])).attr("fill","none").attr("stroke","#fff").attr("stroke-width",2.2);

// ---------- BOTTOM BARS ----------
const bot=svg.append("g");
const ranges=["1D","5D","1M","3M","6M","YTD","1Y","5Y","All"];
const rangeX=[158,220,284,349,414,486,557,617,674];
ranges.forEach((s,k)=>txt(bot,rangeX[k],1816,s,26,INK,{a:"middle"}));
vsep(bot,712,1793,1836);
p(bot,"M745 1800h30v28h-10M745 1812h30M754 1795v9M766 1795v9M745 1812v6M740 1824h14M749 1819l5 5-5 5",INK,2.4);
txt(bot,3241,1815,"01:05:02 UTC",27,INK,{a:"end",len:184,adj:"spacing"});
const tabs=[["Stock Screener",145,197],["Pine Editor",432,140],["Strategy Tester",636,198],["Replay Trading",898,190],["Trading Panel",1155,172]];
tabs.forEach(t=>txt(bot,t[1],1898,t[0],27,INK,{len:t[2],adj:"spacing"}));
p(bot,"M369 1896l5 5 5-5",INK,2.2);
rect(bot,2006,1862,199,90,"#fff",14,{stroke:"#eeeeee","stroke-width":2});
[1889,1899,1909].forEach(yy=>{[2026,2036].forEach(xx=>bot.append("circle").attr("cx",xx).attr("cy",yy).attr("r",1.8).attr("fill","#c9c9c9"));});
p(bot,"M2070 1881h26M2070 1893h26M2070 1905h26M2070 1917h26",INK,2.4);circ(bot,2100,1893,4,INK,2,"#fff");circ(bot,2072,1917,4,INK,2,"#fff");
p(bot,"M2148 1911L2160 1896 2175 1911 2190 1896",INK,2);[[2148,1911],[2161,1896],[2175,1911],[2190,1896]].forEach(n=>circ(bot,n[0],n[1],4,INK,2,"#fff"));
txt(bot,2160,1880,"1",18,INK,{a:"middle"});txt(bot,2190,1880,"5",18,INK,{a:"middle"});
p(bot,"M3140 1901l12-14 12 14",INK,2.4);
p(bot,"M3209 1888v-6h30v6M3209 1908v6h30v-6",INK,2.4);
txt(svg,3275,1918,"@Bitcoinboy-8686",24,"#a8a8a8",{a:"end",len:195,adj:"spacing"}).attr("stroke","#fff").attr("stroke-width",.5);
p(svg,"M3050 1910l6 6 6-6M3053 1918l6 6 6-6","#b5b5b5",1.6);
</script></body></html>
